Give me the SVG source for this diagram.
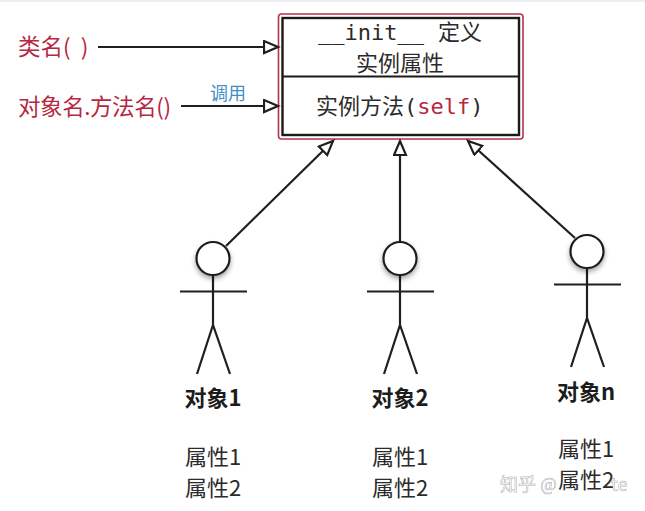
<svg xmlns="http://www.w3.org/2000/svg" width="645" height="511" viewBox="0 0 645 511">
<style>
text{font-family:"Noto Sans CJK SC","Noto Sans",sans-serif}
.k{fill:#2b2b2b;font-size:22px;text-anchor:middle}
.s{fill:#2b2b2b;font-size:22px}
.b{fill:#1c1c1c;font-size:22px;font-weight:700;text-anchor:middle}
.r{fill:#b5283f;font-size:22.500px}
.m{font-family:"DejaVu Sans Mono","Noto Sans CJK SC",monospace}
.l{stroke:#1f1f1f;stroke-width:2.200;fill:none}
.c{stroke:#1f1f1f;stroke-width:2.200;fill:none;marker-end:url(#tri)}
.h{fill:#fff;stroke:#1f1f1f;stroke-width:2.200;filter:url(#sh)}
.w{font-size:18px;fill:#fff;stroke:#9a9a9a;stroke-width:.5;opacity:.85}
</style>
<defs>
<marker id="tri" markerUnits="userSpaceOnUse" markerWidth="18" markerHeight="16" refX="15" refY="7" orient="auto" viewBox="0 0 18 16"><path d="M1 1L15 7L1 13Z" fill="#fff" stroke="#1f1f1f" stroke-width="2.200"/></marker>
<filter id="sh" x="-40%" y="-40%" width="180%" height="190%"><feDropShadow dx="0" dy="3" stdDeviation="2.500" flood-color="#000" flood-opacity=".35"/></filter>
</defs>
<rect width="645" height="511" fill="#fff"/>
<rect width="645" height="2" fill="#eeeeee"/>
<g id="class-box">
<rect x="278.500" y="14" width="244.500" height="125" rx="3" fill="#fff" stroke="#b5344b" stroke-width="1.600"/>
<rect x="282.500" y="18" width="236.500" height="117" fill="none" stroke="#1a1a1a" stroke-width="2.400"/>
<line x1="282.500" y1="76.500" x2="519" y2="76.500" stroke="#1a1a1a" stroke-width="2"/>
<text class="s m" x="318" y="40">__init__</text>
<text class="s" x="438" y="40">定义</text>
<text class="k" x="400" y="71">实例属性</text>
<text class="s" x="316" y="114">实例方法</text>
<text class="s m" x="404" y="114">(<tspan fill="#b5283f">self</tspan>)</text>
</g>
<g id="label-class-call"><text class="r" x="18" y="55" xml:space="preserve">类名(  )</text></g>
<g id="label-method-call"><text class="r" x="18" y="115" textLength="153">对象名.方法名()</text></g>
<g id="label-invoke"><text x="210" y="100" font-size="18" fill="#3f8fc4">调用</text></g>
<g id="connectors">
<line class="c" x1="98" y1="47" x2="278" y2="47"/>
<line class="c" x1="181" y1="106" x2="278" y2="106"/>
<line class="c" x1="226" y1="246" x2="333" y2="141"/>
<line class="c" x1="400" y1="242" x2="400" y2="141"/>
<line class="c" x1="575" y1="238" x2="468" y2="141"/>
</g>
<g id="actor-1">
<path class="l" d="M213 275V325M180 291.500H247M197 374L213 325L230 374"/>
<circle class="h" cx="213" cy="258.500" r="16.500"/>
<text class="b" x="213" y="406">对象1</text>
<text class="k" x="213" y="465">属性1</text>
<text class="k" x="213" y="496">属性2</text>
</g>
<g id="actor-2">
<path class="l" d="M400 275V325M367 291.500H434M384 374L400 325L417 374"/>
<circle class="h" cx="400" cy="258.500" r="16.500"/>
<text class="b" x="400" y="406">对象2</text>
<text class="k" x="400" y="465">属性1</text>
<text class="k" x="400" y="496">属性2</text>
</g>
<g id="actor-n">
<path class="l" d="M587 268V318M554 284.500H621M571 367L587 318L604 367"/>
<circle class="h" cx="587" cy="251.500" r="16.500"/>
<text class="b" x="586" y="400">对象n</text>
<text class="k" x="586" y="457">属性1</text>
<text class="k" x="586" y="488">属性2</text>
</g>
<g id="watermark"><text class="w" x="500" y="491">知乎 @</text><text class="w" x="611" y="491">te</text></g>
</svg>
